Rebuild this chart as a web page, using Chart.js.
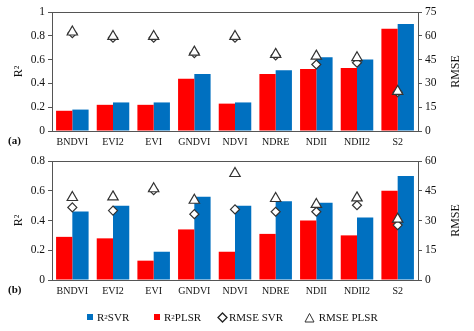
<!DOCTYPE html>
<html>
<head>
<meta charset="utf-8">
<script src="https://cdn.jsdelivr.net/npm/chart.js@4.4.0/dist/chart.umd.min.js"></script>
<style>
  body { margin: 0; background: #fff; font-family: "Liberation Serif", serif; }
  #wrap { position: relative; width: 474px; height: 331px; overflow: hidden; }
  canvas { position: absolute; left: 0; }
  .tag { position: absolute; left: 8px; font-weight: bold; font-size: 11px; color: #111; }
  .leg { position: absolute; top: 311px; font-size: 11px; color: #111; white-space: nowrap; display: flex; align-items: center; }
  .sq { display: inline-block; width: 6px; height: 6px; margin-right: 4px; }
  .leg svg { margin-right: 1px; }
</style>
</head>
<body>
<div id="wrap">
  <canvas id="chartA" width="474" height="150" style="top:0"></canvas>
  <canvas id="chartB" width="474" height="150" style="top:150px"></canvas>
  <div class="tag" style="top:134px">(a)</div>
  <div class="tag" style="top:283px">(b)</div>
  <div class="leg" style="left:87px"><span class="sq" style="background:#0070C0"></span>R<sup style="font-size:7px">2</sup>SVR</div>
  <div class="leg" style="left:154px"><span class="sq" style="background:#FF0000"></span>R<sup style="font-size:7px">2</sup>PLSR</div>
  <div class="leg" style="left:217px"><svg width="11" height="11"><path d="M5.5 1 L10 5.5 L5.5 10 L1 5.5 Z" fill="#fff" stroke="#222" stroke-width="1.3"/></svg>RMSE SVR</div>
  <div class="leg" style="left:304px"><svg width="11" height="11"><path d="M5.5 1.5 L10 10 L1 10 Z" fill="#fff" stroke="#333" stroke-width="1"/></svg>&nbsp;RMSE PLSR</div>
</div>
<script>
const labels = ["BNDVI", "EVI2", "EVI", "GNDVI", "NDVI", "NDRE", "NDII", "NDII2", "S2"];

// panel (a)
const r2PlsrA = [0.17, 0.22, 0.22, 0.44, 0.23, 0.48, 0.52, 0.53, 0.86];
const r2SvrA = [0.18, 0.24, 0.24, 0.48, 0.24, 0.51, 0.62, 0.60, 0.90];
const rmsePlsrA = [62.4, 59.6, 59.6, 49.7, 59.6, 48.3, 47.2, 46.2, 25.0];
const rmseSvrA = [61.6, 58.8, 58.8, 49.0, 58.8, 47.6, 41.9, 43.0, 24.5];

// panel (b)
const r2PlsrB = [0.29, 0.28, 0.13, 0.34, 0.19, 0.31, 0.40, 0.30, 0.60];
const r2SvrB = [0.46, 0.50, 0.19, 0.56, 0.50, 0.53, 0.52, 0.42, 0.70];
const rmsePlsrB = [41.6, 41.9, 46.0, 40.2, 53.7, 41.1, 38.1, 41.4, 30.7];
const rmseSvrB = [36.6, 35.0, 45.3, 33.2, 35.6, 34.4, 34.4, 37.7, 27.7];

const axisColor = "#555";
const font = { family: "Liberation Serif", size: 11.5 };

// top frame line + right axis title (reads bottom to top like the left one)
const frameExtras = {
  id: "frameExtras",
  afterDraw(chart) {
    const a = chart.chartArea, ctx = chart.ctx;
    ctx.save();
    ctx.strokeStyle = axisColor;
    ctx.lineWidth = 1;
    ctx.beginPath();
    ctx.moveTo(a.left, a.top + 0.5);
    ctx.lineTo(a.right, a.top + 0.5);
    ctx.stroke();
    ctx.translate(456, (a.top + a.bottom) / 2);
    ctx.rotate(-Math.PI / 2);
    ctx.fillStyle = "#111";
    ctx.font = "12px 'Liberation Serif'";
    ctx.textAlign = "center";
    ctx.textBaseline = "middle";
    ctx.fillText("RMSE", 0, 0);
    ctx.restore();
  }
};

function makeChart(id, r2P, r2S, rP, rS, r2Max, rMax, topPad, xH) {
  return new Chart(document.getElementById(id), {
    type: "bar",
    data: {
      labels,
      datasets: [
        { label: "RMSE PLSR", type: "line", data: rP, yAxisID: "y1", showLine: false, order: 1,
          pointStyle: "triangle", pointRadius: 6, pointBackgroundColor: "#fff", pointBorderColor: "#333", pointBorderWidth: 1.2 },
        { label: "RMSE SVR", type: "line", data: rS, yAxisID: "y1", showLine: false, order: 2,
          pointStyle: "rectRot", pointRadius: 4.5, pointBackgroundColor: "#fff", pointBorderColor: "#333", pointBorderWidth: 1.2 },
        { label: "R²PLSR", data: r2P, backgroundColor: "#FF0000", order: 3 },
        { label: "R²SVR", data: r2S, backgroundColor: "#0070C0", order: 3 }
      ]
    },
    options: {
      responsive: false,
      animation: false,
      layout: { padding: { left: 12, right: 10, top: topPad, bottom: 0 } },
      datasets: { bar: { barPercentage: 1, categoryPercentage: 0.8 } },
      plugins: { legend: { display: false }, tooltip: { enabled: false } },
      scales: {
        x: {
          grid: { display: false, drawTicks: false },
          border: { color: axisColor },
          ticks: { color: "#111", font: { family: "Liberation Serif", size: 10 }, padding: 5, maxRotation: 0 },
          afterFit: s => { s.height = xH; }
        },
        y: {
          position: "left", min: 0, max: r2Max,
          ticks: { stepSize: 0.2, color: "#111", font, padding: 3, callback: v => String(+v.toFixed(1)) },
          grid: { drawOnChartArea: false, tickLength: 4, color: axisColor },
          border: { color: axisColor },
          title: { display: true, text: "R²", color: "#111", font: { family: "Liberation Serif", size: 12 }, padding: 0 },
          afterFit: s => { s.width = 40; }
        },
        y1: {
          position: "right", min: 0, max: rMax,
          ticks: { stepSize: 15, color: "#111", font, padding: 3 },
          grid: { drawOnChartArea: false, tickLength: 4, color: axisColor },
          border: { color: axisColor },
          afterFit: s => { s.width = 46; }
        }
      }
    },
    plugins: [frameExtras]
  });
}

makeChart("chartA", r2PlsrA, r2SvrA, rmsePlsrA, rmseSvrA, 1, 75, 12, 19);
makeChart("chartB", r2PlsrB, r2SvrB, rmsePlsrB, rmseSvrB, 0.8, 60, 11, 20);
</script>
</body>
</html>
